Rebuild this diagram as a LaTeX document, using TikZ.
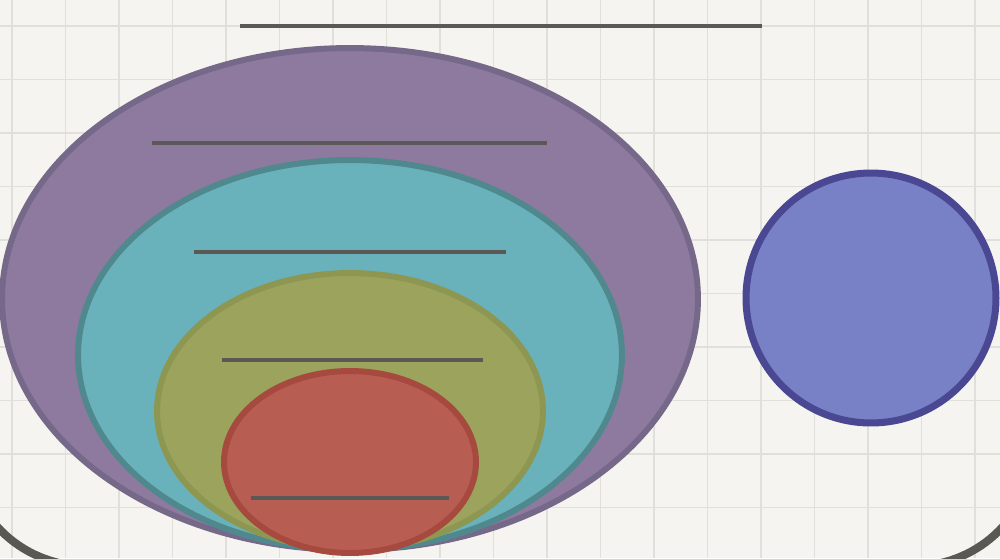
\documentclass[tikz,border=0pt]{standalone}
\begin{document}
\begin{tikzpicture}[x=0.02cm,y=-0.02cm,
  gridline/.style={draw=gridc,line width=1.1pt},
  barline/.style={draw=barc,line width=2.3pt},
  blob/.style={line width=3.4pt}]
\definecolor{paper}{HTML}{F5F4F0}
\definecolor{gridc}{HTML}{E1DFDA}
\definecolor{barc}{HTML}{5B5955}
\definecolor{framec}{HTML}{5A5852}
\definecolor{purpf}{HTML}{8E7A9F}
\definecolor{purpd}{HTML}{766889}
\definecolor{tealf}{HTML}{6AB2BB}
\definecolor{teald}{HTML}{4F898E}
\definecolor{olivf}{HTML}{9BA35D}
\definecolor{olivd}{HTML}{8D9751}
\definecolor{redf}{HTML}{B85D52}
\definecolor{redd}{HTML}{A6493F}
\definecolor{bluef}{HTML}{7880C6}
\definecolor{blued}{HTML}{4A4893}
\useasboundingbox (0,0) rectangle (1000,558);
\clip (0,0) rectangle (1000,558);
\fill[paper] (0,0) rectangle (1000,558);
% grid
\foreach \k in {0,...,18} {\draw[gridline] (12+53.5*\k,0) -- (12+53.5*\k,558);}
\foreach \k in {0,...,10} {\draw[gridline] (0,26+53.5*\k) -- (1000,26+53.5*\k);}
% frame
\draw[draw=framec,line width=4.6pt,rounded corners=2.4cm] (-34,-100) rectangle (1034,566);
% nested ellipses
\draw[blob,fill=purpf,draw=purpd] (350,299) ellipse [x radius=6.96cm, y radius=5.02cm];
\draw[blob,fill=tealf,draw=teald] (350,355) ellipse [x radius=5.44cm, y radius=3.9cm];
\draw[blob,fill=olivf,draw=olivd] (350,411) ellipse [x radius=3.86cm, y radius=2.76cm];
\draw[blob,fill=redf,draw=redd] (350,462) ellipse [x radius=2.52cm, y radius=1.82cm];
% circle
\draw[line width=4pt,fill=bluef,draw=blued] (871,298) circle [radius=2.5cm];
% placeholder bars
\draw[barline] (240,26) -- (762,26);
\draw[barline] (152,143) -- (547,143);
\draw[barline] (194,252) -- (506,252);
\draw[barline] (222,360) -- (483,360);
\draw[barline] (251,498) -- (449,498);
\end{tikzpicture}
\end{document}
